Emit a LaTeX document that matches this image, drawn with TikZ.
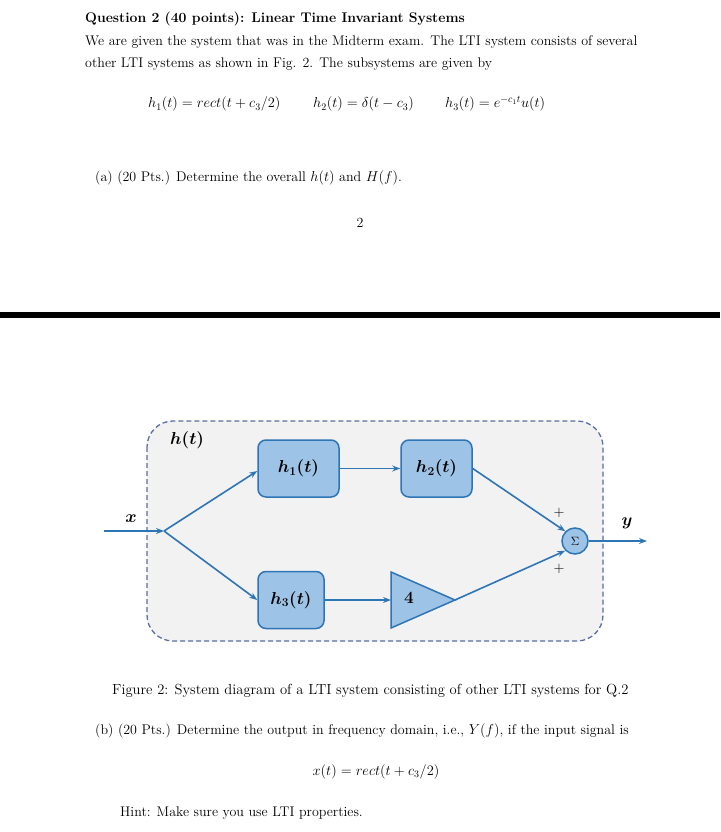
\documentclass[tikz,border=0pt]{standalone}
\usetikzlibrary{arrows.meta}
\definecolor{boxfill}{HTML}{9DC3E6}
\definecolor{boxline}{HTML}{2E75B6}
\definecolor{dashline}{HTML}{5A6EA8}
\definecolor{panel}{HTML}{F2F2F2}
\begin{document}
\begin{tikzpicture}[x=1pt,y=-1pt,
  txt/.style={anchor=base west,inner sep=0pt,font=\fontsize{14}{16}\selectfont},
  txtc/.style={anchor=base,inner sep=0pt,font=\fontsize{14}{16}\selectfont},
  blk/.style={draw=boxline,fill=boxfill,line width=1.5pt,rounded corners=8pt,inner sep=0pt,font=\fontsize{16.5}{19}\selectfont\boldmath},
  lbl/.style={inner sep=0pt,font=\fontsize{16.5}{19}\selectfont\boldmath},
  sig/.style={-{Stealth[length=8pt,width=6pt]},draw=boxline,line width=1.6pt},
  plain/.style={draw=boxline,line width=1.6pt}]
\useasboundingbox (0,0) rectangle (720,832);
\fill[white] (0,0) rectangle (720,832);
% text part
\node[txt] (title) at (85,23) {\bfseries Question 2 (40 points): Linear Time Invariant Systems};
\node[txt] (l2) at (85,46) {We are given the system that was in the Midterm exam. The LTI system consists of several};
\node[txt] (l3) at (85,68) {other LTI systems as shown in Fig. 2. The subsystems are given by};
\node[txt] (e1) at (148,108) {$h_1(t) = rect(t+c_3/2)$};
\node[txt] (e2) at (313,108) {$h_2(t) = \delta(t-c_3)$};
\node[txt] (e3) at (445,108) {$h_3(t) = e^{-c_1 t}u(t)$};
\node[txt] (pa) at (95,181) {(a) (20 Pts.) Determine the overall $h(t)$ and $H(f)$.};
\node[txtc] (pg) at (360,227) {2};
\fill (0,312) rectangle (720,318);
% diagram
\draw[dashline,dash pattern=on 5pt off 3pt,line width=1.3pt,fill=panel,rounded corners=26pt] (147,421) rectangle (603,641);
\node[lbl,anchor=west] (ht) at (170,440) {$h(t)$};
\node[blk,minimum width=81pt,minimum height=57pt] (h1) at (298.5,468.5) {$h_1(t)$};
\node[blk,minimum width=71pt,minimum height=57pt] (h2) at (436.5,468.5) {$h_2(t)$};
\node[blk,minimum width=66pt,minimum height=57pt] (h3) at (291,600) {$h_3(t)$};
\draw[draw=boxline,fill=boxfill,line width=1.5pt,line join=miter] (391,572) -- (455,600) -- (391,628) -- cycle;
\coordinate (triw) at (391,600);
\coordinate (trie) at (455,600);
\node[lbl] (four) at (409,598) {$4$};
\node[circle,draw=boxline,fill=boxfill,line width=1.5pt,minimum size=26pt,inner sep=0pt,font=\fontsize{13}{15}\selectfont] (sum) at (575,541) {$\Sigma$};
\coordinate (in) at (104,531);
\coordinate (split) at (164,531);
\coordinate (out) at (647,541);
\draw[sig] (in) -- (split);
\draw[sig] (split) -- (h1.west |- 0,471);
\draw[sig] (split) -- (h3.west);
\draw[sig] (h1.east) -- (h2.west);
\draw[sig] (h3.east) -- (triw);
\draw[sig] (h2.east) -- (sum.north west);
\draw[sig] (trie) -- (sum.south west);
\draw[sig] (sum.east) -- (out);
\node[lbl] (xl) at (131,519) {$x$};
\node[lbl] (yl) at (627,523) {$y$};
\node[inner sep=0pt,font=\fontsize{14}{16}\selectfont] (p1) at (559,513) {$+$};
\node[inner sep=0pt,font=\fontsize{14}{16}\selectfont] (p2) at (559,569) {$+$};
% lower text
\node[txt,font=\fontsize{14.6}{17}\selectfont] (cap) at (112,694) {Figure 2: System diagram of a LTI system consisting of other LTI systems for Q.2};
\node[txt] (pb) at (95,734) {(b) (20 Pts.) Determine the output in frequency domain, i.e., $Y(f)$, if the input signal is};
\node[txtc] (ex) at (376,775) {$x(t) = rect(t+c_3/2)$};
\node[txt] (hint) at (120,816) {Hint: Make sure you use LTI properties.};
\end{tikzpicture}
\end{document}
